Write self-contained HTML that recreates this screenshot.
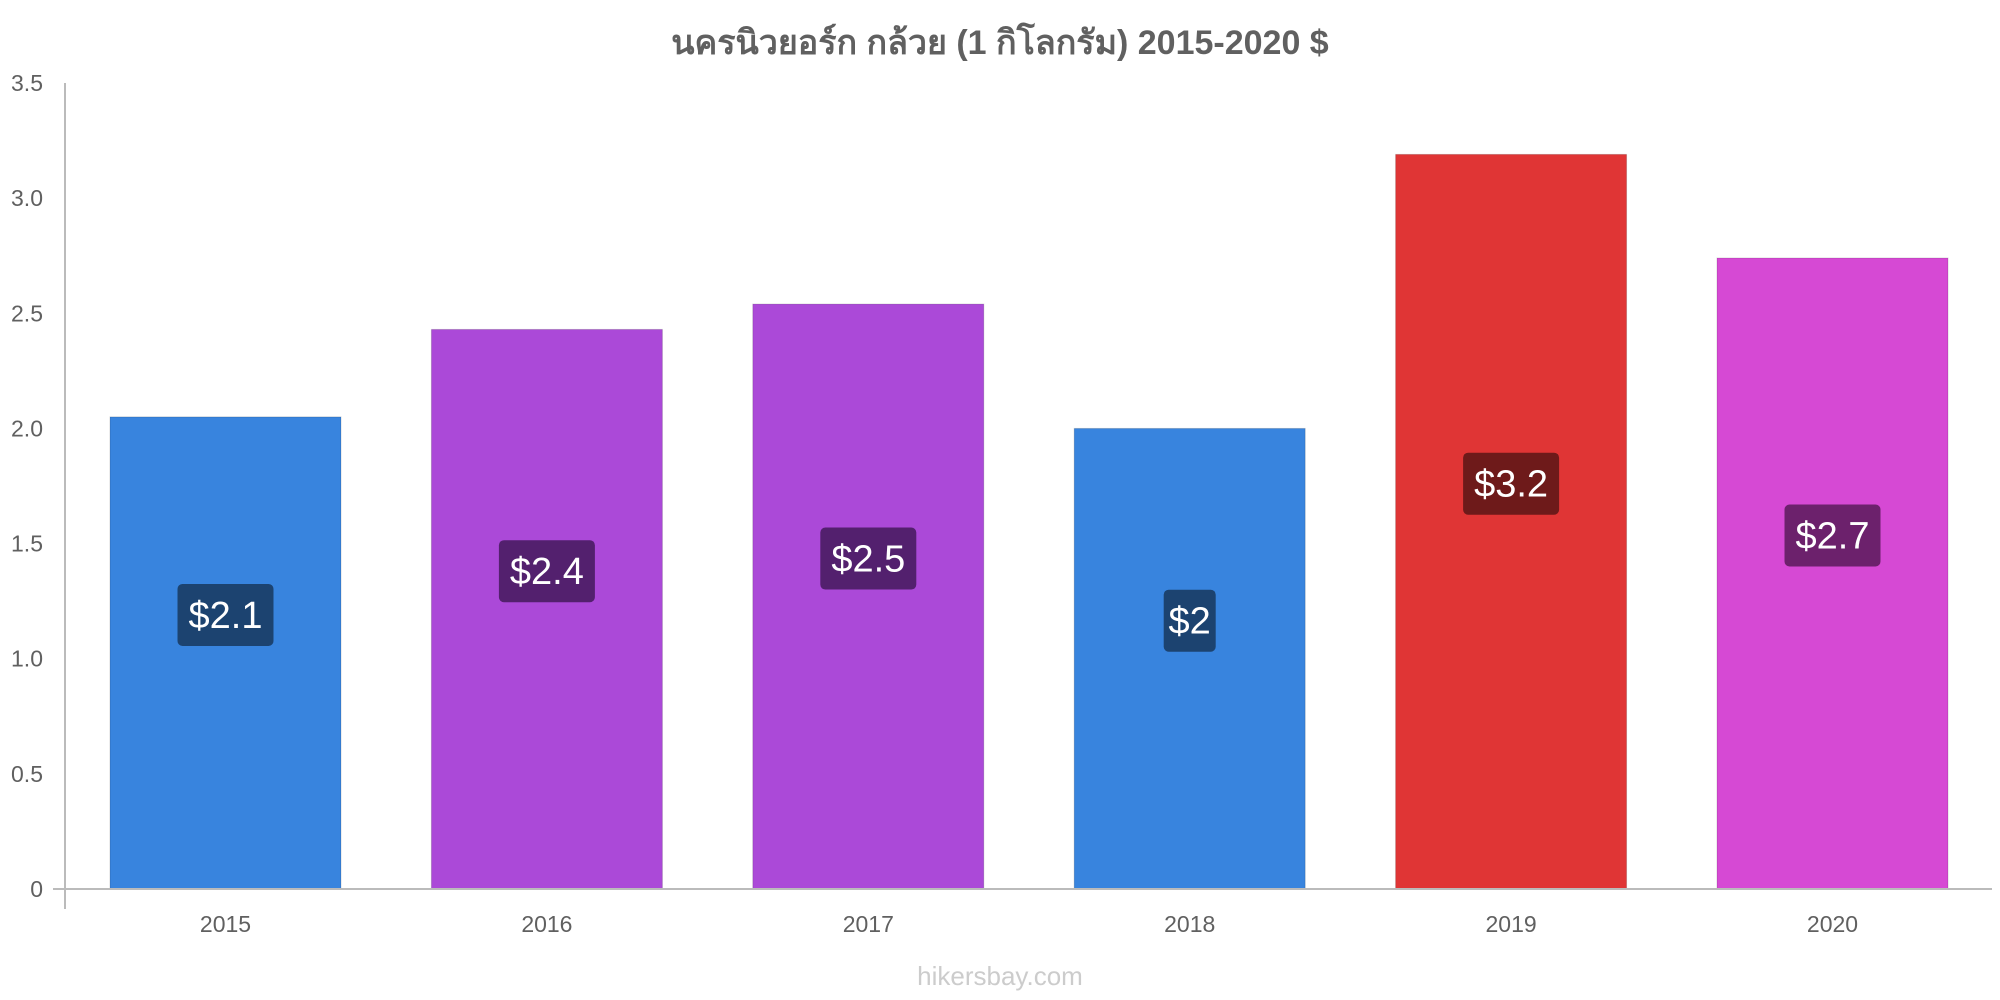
<!DOCTYPE html>
<html><head><meta charset="utf-8"><style>
html,body{margin:0;padding:0;background:#fff}
svg{display:block;font-family:"Liberation Sans","Noto Sans CJK SC",sans-serif}
</style></head><body>
<svg id="chart" width="2000" height="1000" viewBox="0 0 2000 1000" xmlns="http://www.w3.org/2000/svg">
<text x="1000" y="54" text-anchor="middle" font-size="34" font-weight="bold" fill="#606060" font-family="'Liberation Sans','Noto Sans CJK SC',sans-serif">นครนิวยอร์ก กล้วย (1 กิโลกรัม) 2015-2020 $</text>
<g id="yaxis"></g>
<g id="bars"></g>
<g id="xaxis"></g>
<text x="1000" y="985" text-anchor="middle" font-size="26" fill="#cccccc">hikersbay.com</text>
</svg>
<script>
const categories = ["2015","2016","2017","2018","2019","2020"];
const values = [2.05, 2.43, 2.54, 2.0, 3.19, 2.74];
const valueLabels = ["$2.1","$2.4","$2.5","$2","$3.2","$2.7"];
const yTicks = [0,0.5,1.0,1.5,2.0,2.5,3.0,3.5];
const yTickLabels = ["0","0.5","1.0","1.5","2.0","2.5","3.0","3.5"];
const barColors = ["#3884de","#ab49d8","#ab49d8","#3884de","#e03535","#d649d4"];
const labelColors = ["#1c4370","#53206e","#53206e","#1c4370","#6e1a1a","#6c216c"];

const NS="http://www.w3.org/2000/svg";
const x0=65, x1=1992, yZero=889, yTop=83, yMax=3.5;
const step=321.4, barW=231, firstLeft=110;
function y(v){return yZero-(v/yMax)*(yZero-yTop);}
function xLeft(i){return firstLeft+i*step;}
function mk(tag,attrs,parent){const e=document.createElementNS(NS,tag);for(const k in attrs)e.setAttribute(k,attrs[k]);parent.appendChild(e);return e;}

const ya=document.getElementById('yaxis');
const line=mk('line',{x1:x0,y1:yTop,x2:x0,y2:909,stroke:'#bbbbbb','stroke-width':2},ya);


yTicks.forEach((t,i)=>{
  const tx=mk('text',{x:43,y:y(t)+8,'text-anchor':'end','font-size':23,fill:'#606060'},ya);
  
  
  tx.textContent=yTickLabels[i];
});

const bg=document.getElementById('bars');
values.forEach((v,i)=>{
  const l=xLeft(i);
  const r=mk('rect',{x:l,y:y(v),width:barW,height:yZero-y(v),fill:barColors[i],stroke:'rgba(0,0,0,0.15)','stroke-width':1},bg);
  
  
  const cy=(y(v)+yZero)/2-38;
  const w=valueLabels[i].length*22+8;
  const lb=mk('rect',{x:l+barW/2-w/2,y:cy-31,width:w,height:62,rx:5,fill:labelColors[i]},bg);
  
  
  const t=mk('text',{x:l+barW/2,y:cy+13,'text-anchor':'middle','font-size':38,fill:'#ffffff'},bg);
  
  
  t.textContent=valueLabels[i];
});

const xa=document.getElementById('xaxis');
const xl=mk('line',{x1:53,y1:yZero,x2:x1,y2:yZero,stroke:'#bbbbbb','stroke-width':2},xa);


categories.forEach((c,i)=>{
  const t=mk('text',{x:xLeft(i)+barW/2,y:932,'text-anchor':'middle','font-size':23,fill:'#606060'},xa);
  
  
  t.textContent=c;
});
</script>
</body></html>
